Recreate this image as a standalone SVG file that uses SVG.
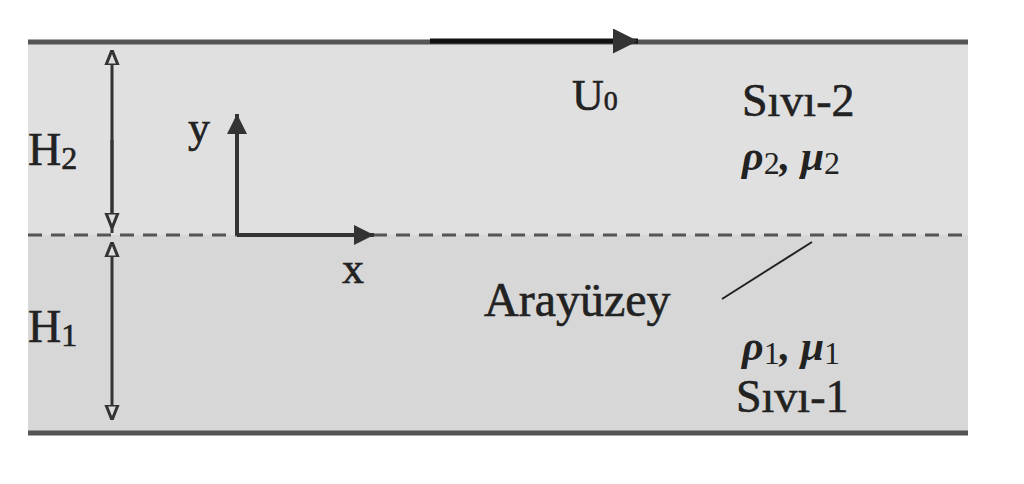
<svg xmlns="http://www.w3.org/2000/svg" width="1024" height="484" viewBox="0 0 1024 484">
<style>
.t{font-family:"Liberation Serif","Times New Roman",serif;fill:#222;stroke:#222;stroke-width:0.6}
.g{font-family:"Liberation Serif","Times New Roman",serif;font-style:italic;font-weight:bold;fill:#222}
</style>
<defs>
<marker id="open" viewBox="0 0 10 10" refX="10" refY="5" markerWidth="5" markerHeight="6" orient="auto"><path d="M0,1 L10,5 L0,9 Z" fill="#ddd" stroke="#333" stroke-width="2"/></marker>
<marker id="solid" viewBox="0 0 10 10" refX="10" refY="5" markerWidth="5" markerHeight="5" orient="auto"><path d="M0,0 L10,5 L0,10 Z" fill="#333"/></marker>
</defs>
<rect width="1024" height="484" fill="#fff"/>
<rect x="28" y="42" width="940" height="193" fill="#e0e0e0"/>
<rect x="28" y="235" width="940" height="198" fill="#d7d7d7"/>
<g id="walls">
<line x1="28" y1="42" x2="968" y2="42" stroke="#555" stroke-width="5"/>
<line x1="28" y1="433" x2="968" y2="433" stroke="#555" stroke-width="5"/>
<line x1="28" y1="235" x2="968" y2="235" stroke="#555" stroke-width="3" stroke-dasharray="14,9"/>
</g>
<g id="connectors" stroke="#333" fill="none">
<line x1="112" y1="233" x2="112" y2="50" stroke-width="3" marker-end="url(#open)"/>
<line x1="112" y1="140" x2="112" y2="228" stroke-width="3" marker-end="url(#open)"/>
<line x1="112" y1="330" x2="112" y2="420" stroke-width="3" marker-end="url(#open)"/>
<line x1="112" y1="330" x2="112" y2="242" stroke-width="3" marker-end="url(#open)"/>
<line x1="237" y1="235" x2="237" y2="114" stroke-width="4" marker-end="url(#solid)"/>
<line x1="237" y1="235" x2="374" y2="235" stroke-width="4" marker-end="url(#solid)"/>
<line x1="430" y1="41" x2="638" y2="41" stroke="#111" stroke-width="5" marker-end="url(#solid)"/>
<line x1="722" y1="299" x2="812" y2="242" stroke="#222" stroke-width="2"/>
</g>
<g id="labels">
<text class="t" x="28" y="165" font-size="46">H<tspan font-size="32" dy="4">2</tspan></text>
<text class="t" x="28" y="342" font-size="46">H<tspan font-size="32" dy="4">1</tspan></text>
<text class="t" x="188" y="142" font-size="44">y</text>
<text class="t" x="342" y="283" font-size="44">x</text>
<text class="t" x="572" y="110" font-size="44">U<tspan font-size="28">0</tspan></text>
<text class="t" x="742" y="116" font-size="46">Sıvı-2</text>
<text class="g" x="742" y="170" font-size="42">ρ<tspan font-size="32" font-style="normal" font-weight="normal" dy="4">2</tspan><tspan dy="-4">, μ</tspan><tspan font-size="32" font-style="normal" font-weight="normal" dy="4">2</tspan></text>
<text class="t" x="484" y="316" font-size="48">Arayüzey</text>
<text class="g" x="742" y="360" font-size="42">ρ<tspan font-size="32" font-style="normal" font-weight="normal" dy="4">1</tspan><tspan dy="-4">, μ</tspan><tspan font-size="32" font-style="normal" font-weight="normal" dy="4">1</tspan></text>
<text class="t" x="736" y="412" font-size="46">Sıvı-1</text>
</g>
</svg>
